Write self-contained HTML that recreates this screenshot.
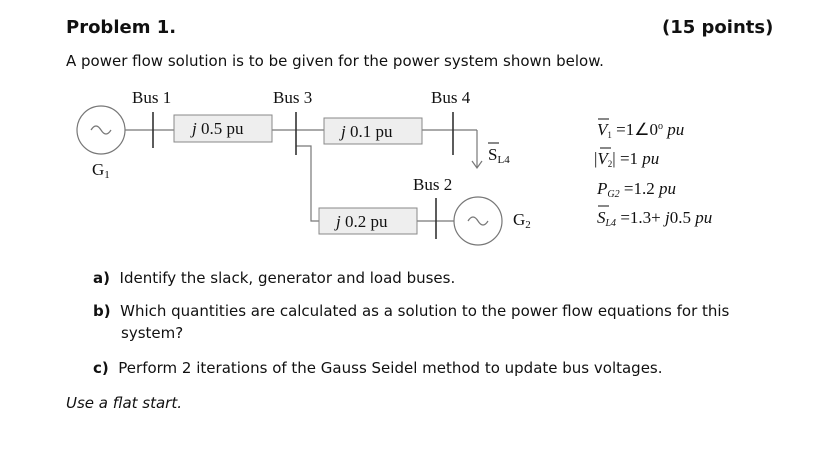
<!DOCTYPE html>
<html><head><meta charset="utf-8"><style>
body{margin:0;width:834px;height:460px;background:#fff;position:relative;font-family:"DejaVu Sans","Liberation Sans",sans-serif;color:#111;overflow:hidden}
.t{position:absolute;white-space:nowrap;font-size:15px}
</style></head><body>
<div class="t" style="left:66px;top:17px;font-size:18px;font-weight:bold">Problem 1.</div>
<div class="t" style="left:662px;top:17px;font-size:18px;font-weight:bold">(15 points)</div>
<div class="t" style="left:66px;top:52px">A power flow solution is to be given for the power system shown below.</div>
<div class="t" style="left:93px;top:269px"><b>a)</b>&nbsp; Identify the slack, generator and load buses.</div>
<div class="t" style="left:93px;top:302px"><b>b)</b>&nbsp; Which quantities are calculated as a solution to the power flow equations for this</div>
<div class="t" style="left:121px;top:324px">system?</div>
<div class="t" style="left:93px;top:359px"><b>c)</b>&nbsp; Perform 2 iterations of the Gauss Seidel method to update bus voltages.</div>
<div class="t" style="left:66px;top:394px;font-style:italic">Use a flat start.</div>
<svg width="834" height="460" style="position:absolute;left:0;top:0" font-family="Liberation Serif,serif">
<g stroke="#777" stroke-width="1.2" fill="none">
<circle cx="101" cy="130" r="24"/>
<circle cx="478" cy="221" r="24"/>
<path d="M91 130 q5 -8 10 0 q5 8 10 0"/>
<path d="M468 221 q5 -8 10 0 q5 8 10 0"/>
<line x1="125" y1="130" x2="174" y2="130"/>
<line x1="272" y1="130" x2="324" y2="130"/>
<line x1="422" y1="130" x2="477" y2="130"/>
<line x1="477" y1="130" x2="477" y2="168"/>
<path d="M472 161 L477 168 L482 161"/>
<path d="M296 146 H311 V221 H319"/>
<line x1="417" y1="221" x2="454" y2="221"/>
</g>
<g stroke="#333" stroke-width="1.6">
<line x1="153" y1="112" x2="153" y2="148"/>
<line x1="296" y1="112" x2="296" y2="155"/>
<line x1="453" y1="112" x2="453" y2="155"/>
<line x1="436" y1="198" x2="436" y2="239"/>
</g>
<g fill="#eee" stroke="#888">
<rect x="174" y="115" width="98" height="27"/>
<rect x="324" y="118" width="98" height="26"/>
<rect x="319" y="208" width="98" height="26"/>
</g>
<g font-size="17" fill="#111">
<text x="132" y="103">Bus 1</text>
<text x="273" y="103">Bus 3</text>
<text x="431" y="103">Bus 4</text>
<text x="413" y="190">Bus 2</text>
<text x="92" y="175">G<tspan font-size="11" dy="3">1</tspan></text>
<text x="513" y="225">G<tspan font-size="11" dy="3">2</tspan></text>
<text x="488" y="160">S<tspan font-size="11" dy="3">L4</tspan></text>
<line x1="488" y1="143" x2="499" y2="143" stroke="#111"/>
<text x="192" y="134"><tspan font-style="italic">j</tspan> 0.5 pu</text>
<text x="341" y="137"><tspan font-style="italic">j</tspan> 0.1 pu</text>
<text x="336" y="227"><tspan font-style="italic">j</tspan> 0.2 pu</text>
</g>
<g font-size="17" fill="#111">
<text x="597" y="135"><tspan font-style="italic">V</tspan><tspan font-size="9" dy="3">1</tspan><tspan dy="-3"> =1∠0</tspan><tspan font-size="10" dy="-6">o</tspan><tspan dy="6" font-style="italic"> pu</tspan></text>
<line x1="598" y1="119" x2="609" y2="119" stroke="#111"/>
<text x="594" y="164">|<tspan font-style="italic">V</tspan><tspan font-size="9" dy="3">2</tspan><tspan dy="-3">| =1 </tspan><tspan font-style="italic">pu</tspan></text>
<line x1="600" y1="148" x2="611" y2="148" stroke="#111"/>
<text x="597" y="194"><tspan font-style="italic">P</tspan><tspan font-size="10" font-style="italic" dy="3">G2</tspan><tspan dy="-3"> =1.2 </tspan><tspan font-style="italic">pu</tspan></text>
<text x="597" y="223"><tspan font-style="italic">S</tspan><tspan font-size="10" font-style="italic" dy="3">L4</tspan><tspan dy="-3"> =1.3+ </tspan><tspan font-style="italic">j</tspan>0.5 <tspan font-style="italic">pu</tspan></text>
<line x1="598" y1="206" x2="609" y2="206" stroke="#111"/>
</g>
</svg>
</body></html>
